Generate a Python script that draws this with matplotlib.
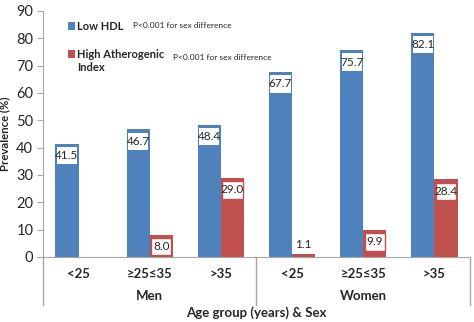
import matplotlib
matplotlib.use('Agg')
import matplotlib.pyplot as plt
from matplotlib.patches import Rectangle
import numpy as np

plt.rcParams['font.family'] = ['Lato', 'DejaVu Sans']

# data
age_groups = ['<25', '≥25≤35', '>35', '<25', '≥25≤35', '>35']
sexes = ['Men', 'Women']
low_hdl = [41.5, 46.7, 48.4, 67.7, 75.7, 82.1]
high_ai = [np.nan, 8.0, 29.0, 1.1, 9.9, 28.4]
series_names = ['Low HDL', 'High Atherogenic\nIndex']
p_note = 'P<0.001 for sex difference'

BLUE = '#4f81bd'
RED = '#c0504d'
GRID = '#a6a6a6'
TXT = '#262626'

fig = plt.figure(figsize=(4.74, 3.22), dpi=100)
ax = fig.add_axes([43 / 474, 1 - 257 / 322, 427 / 474, 246 / 322])

x = np.arange(len(age_groups))
w = 0.325


def draw_series(xpos, values, color):
    ax.bar(xpos, values, w, color=color, zorder=2)
    for xi, v in zip(xpos, values):
        if np.isnan(v):
            continue
        if v < 5:
            ax.text(xi, v + 1.3, f'{v:.1f}', ha='center', va='bottom',
                    fontsize=8.5, color=TXT, zorder=4)
            continue
        top = v - 1.2
        bottom = max(top - 6.4, 0.6)
        edge = color if color == RED else 'none'
        ax.add_patch(Rectangle((xi - w / 2 + 0.02, bottom), w - 0.04, top - bottom,
                               facecolor='white', edgecolor=edge, lw=1.0, zorder=3))
        ax.text(xi, (top + bottom) / 2, f'{v:.1f}', ha='center', va='center',
                fontsize=8.5, color=TXT, zorder=4)


draw_series(x - w / 2, low_hdl, BLUE)
draw_series(x + w / 2, high_ai, RED)

ax.set_xlim(-0.5, 5.5)
ax.set_ylim(0, 90)
ax.set_yticks(range(0, 91, 10))
ax.tick_params(axis='y', length=4, color=GRID, labelsize=10.5, labelcolor=TXT, pad=3)
ax.set_xticks([])
for s in ['top', 'right']:
    ax.spines[s].set_visible(False)
ax.spines['left'].set_color(GRID)
ax.spines['bottom'].set_color(GRID)

# two-level category axis
trans = ax.get_xaxis_transform()
for xb in [-0.5, 2.5, 5.5]:
    ax.plot([xb, xb], [0, -0.195], transform=trans, color=GRID, lw=1, clip_on=False)
for xi, lab in zip(x, age_groups):
    ax.text(xi, -0.069, lab, transform=trans, ha='center', va='center',
            fontsize=9.5, fontweight='bold', color=TXT)
for i, sx in enumerate(sexes):
    ax.text(1 + 3 * i, -0.159, sx, transform=trans, ha='center', va='center',
            fontsize=9.5, fontweight='bold', color=TXT)
ax.text(2.5, -0.228, 'Age group (years) & Sex', transform=trans, ha='center',
        va='center', fontsize=9.5, fontweight='bold', color=TXT)

ax.set_ylabel('Prevalence (%)', fontsize=8.2, fontweight='bold', color=TXT, labelpad=4)

# legend drawn by hand, as in the original
fig.add_artist(Rectangle((68 / 474, 1 - 30 / 322), 7 / 474, 8 / 322,
                         facecolor=BLUE, transform=fig.transFigure))
fig.add_artist(Rectangle((68 / 474, 1 - 58 / 322), 7 / 474, 8 / 322,
                         facecolor=RED, transform=fig.transFigure))
fig.text(77 / 474, 1 - 26 / 322, series_names[0], fontsize=8, fontweight='bold',
         color=TXT, va='center')
fig.text(77 / 474, 1 - 61 / 322, series_names[1], fontsize=8, fontweight='bold',
         color=TXT, va='center', linespacing=1.3)
fig.text(133 / 474, 1 - 26 / 322, p_note, fontsize=6.0, color=TXT, va='center')
fig.text(173 / 474, 1 - 57 / 322, p_note, fontsize=6.0, color=TXT, va='center')

fig.savefig('out.png', dpi=100)
